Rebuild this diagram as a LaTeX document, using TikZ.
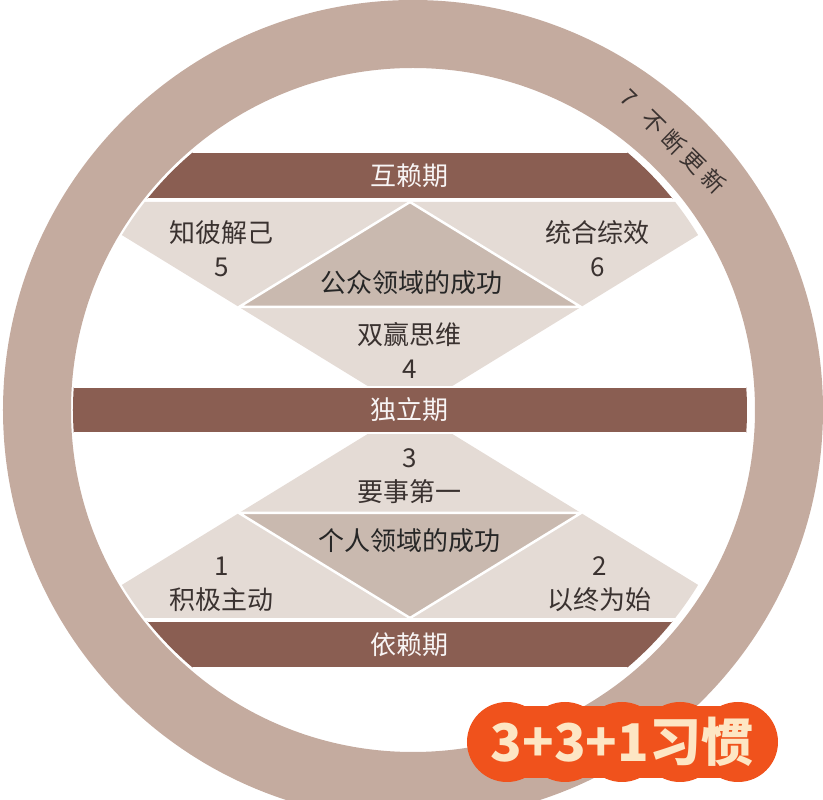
\documentclass[tikz,border=0pt]{standalone}
\usepackage{fontspec}
\setmainfont{Noto Sans CJK SC}
\definecolor{ringbrown}{HTML}{C4AB9F}
\definecolor{barbrown}{HTML}{8A5E52}
\definecolor{panelgray}{HTML}{E4DBD5}
\definecolor{coregray}{HTML}{C9B9AF}
\definecolor{badgeorange}{HTML}{F0521C}
\definecolor{badgecream}{HTML}{FDE6C4}
\definecolor{inktext}{HTML}{3A3230}
\begin{document}
\begin{tikzpicture}[x=1pt,y=1pt,
  barlabel/.style={text=white!94!barbrown,font=\fontsize{26}{30}\selectfont},
  panellabel/.style={text=inktext,align=center,font=\fontsize{26}{34}\selectfont},
  corelabel/.style={text=black!85,font=\fontsize{26}{30}\selectfont},
  ringlabel/.style={text=inktext,inner sep=0pt,font=\fontsize{23}{24}\selectfont}]
\useasboundingbox (-410,-390) rectangle (413,410);
% ring
\fill [ringbrown,even odd rule] (3,0) circle[radius=410] (3,0) circle[radius=342];
\begin{scope}
\clip (0,0) circle[radius=337];
% upper half
\coordinate (tl) at (-342,208); \coordinate (tr) at (342,208);
\coordinate (tp) at (0,208);    \coordinate (ta) at (0,-2);
\coordinate (ul) at (-171,103); \coordinate (ur) at (171,103);
\fill [panelgray] (tl)--(tp)--(ul)--cycle;
\fill [panelgray] (tp)--(tr)--(ur)--cycle;
\fill [panelgray] (ul)--(ur)--(ta)--cycle;
\fill [coregray] (tp)--(ul)--(ur)--cycle;
\draw [white,line width=2.5pt,line join=round] (tp)--(ul)--(ur)--cycle;
% lower half
\coordinate (bl) at (-342,-208); \coordinate (br) at (342,-208);
\coordinate (bp) at (0,-208);    \coordinate (ba) at (0,2);
\coordinate (ll) at (-171,-103); \coordinate (lr) at (171,-103);
\fill [panelgray] (bl)--(bp)--(ll)--cycle;
\fill [panelgray] (bp)--(br)--(lr)--cycle;
\fill [panelgray] (ll)--(lr)--(ba)--cycle;
\fill [coregray] (bp)--(ll)--(lr)--cycle;
\draw [white,line width=2.5pt,line join=round] (bp)--(ll)--(lr)--cycle;
% bars
\filldraw [fill=barbrown,draw=white,line width=2pt] (-340,211) rectangle (340,258);
\filldraw [fill=barbrown,draw=white,line width=2pt] (-340,-23) rectangle (340,23);
\filldraw [fill=barbrown,draw=white,line width=2pt] (-340,-211) rectangle (340,-258);
\end{scope}
\node [barlabel] (interdep) at (0,234) {互赖期};
\node [barlabel] (indep) at (0,0) {独立期};
\node [barlabel] (dep) at (0,-235) {依赖期};
\node [panellabel] (h5) at (-188,161) {知彼解己\\5};
\node [panellabel] (h6) at (188,161) {统合综效\\6};
\node [panellabel] (h4) at (0,60) {双赢思维\\4};
\node [corelabel] (public) at (2,127) {公众领域的成功};
\node [panellabel] (h3) at (0,-66) {3\\要事第一};
\node [corelabel] (private) at (0,-131) {个人领域的成功};
\node [panellabel] (h1) at (-188,-174) {1\\积极主动};
\node [panellabel] (h2) at (190,-174) {2\\以终为始};
% ring text
\node [ringlabel,rotate=-44.4] (renew) at (45.6:376) {7\hspace{17pt}不\hspace{5pt}断\hspace{5pt}更\hspace{5pt}新};
% badge
\fill [badgeorange] (97,-368) rectangle (328,-296);
\fill [badgeorange] (97,-332) circle[radius=40];
\fill [badgeorange] (155,-332) circle[radius=40];
\fill [badgeorange] (212,-332) circle[radius=40];
\fill [badgeorange] (270,-332) circle[radius=40];
\fill [badgeorange] (328,-332) circle[radius=40];
\node [text=badgecream,font=\fontsize{52}{56}\selectfont\bfseries] (habits) at (212,-332) {3+3+1习惯};
\end{tikzpicture}
\end{document}
